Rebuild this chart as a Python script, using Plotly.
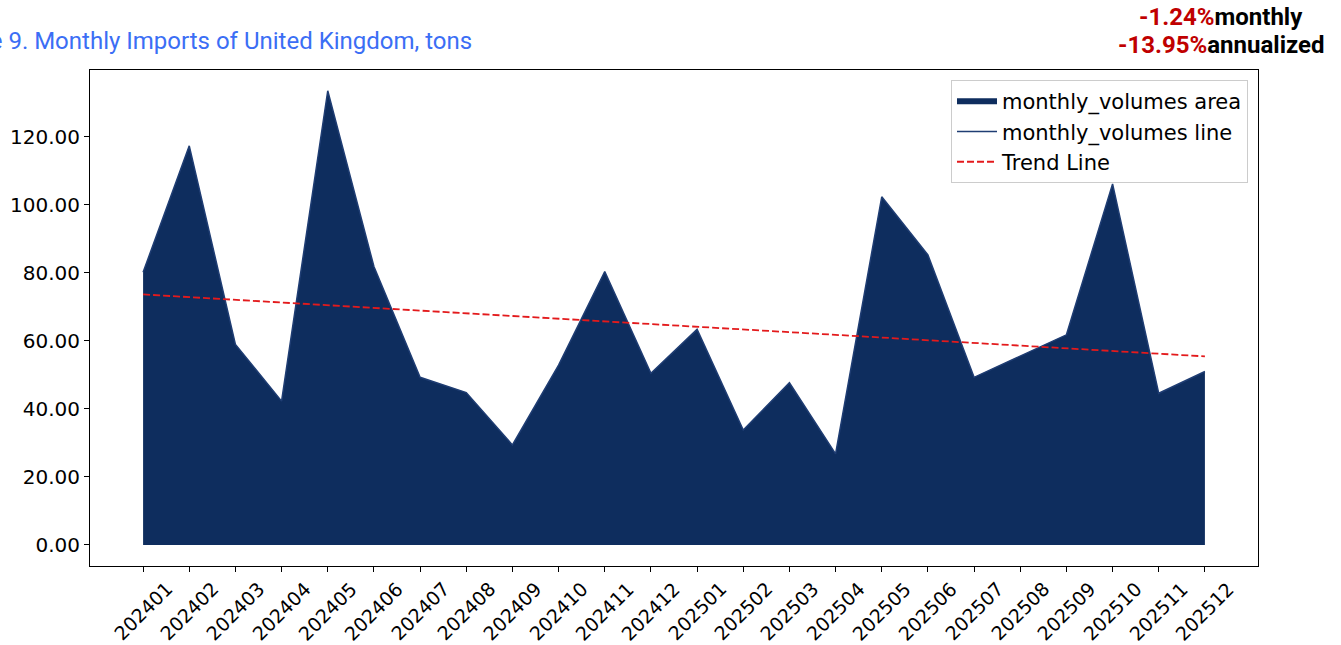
import numpy as np
import plotly.graph_objects as go

months = ["202401", "202402", "202403", "202404", "202405", "202406", "202407", "202408",
          "202409", "202410", "202411", "202412", "202501", "202502", "202503", "202504",
          "202505", "202506", "202507", "202508", "202509", "202510", "202511", "202512"]
volumes = [80.2, 117.4, 59.0, 42.3, 133.6, 81.9, 49.3, 44.8,
           29.4, 52.9, 80.4, 50.5, 63.4, 33.8, 47.7, 26.8,
           102.4, 85.3, 49.3, 55.6, 61.8, 106.2, 44.6, 51.0]
y_ticks = [0, 20, 40, 60, 80, 100, 120]
title_text = "Figure 9. Monthly Imports of United Kingdom, tons"
monthly_rate = "-1.24%"
annual_rate = "-13.95%"

idx = np.arange(len(months))
slope, intercept = np.polyfit(idx, volumes, 1)
trend = slope * idx + intercept

W, H = 1341, 645
ml, mr, mt, mb = 90, 83, 70, 79
pw = W - ml - mr
ph = H - mt - mb

NAVY = "#0e2d5e"

fig = go.Figure()
fig.add_trace(go.Scatter(x=idx, y=volumes, fill="tozeroy", mode="none",
                         fillcolor=NAVY, name="monthly_volumes area"))
fig.add_trace(go.Scatter(x=idx, y=volumes, mode="lines",
                         line=dict(color="#1f3d73", width=1.5), name="monthly_volumes line"))
fig.add_trace(go.Scatter(x=idx, y=trend, mode="lines",
                         line=dict(color="#e31a1c", width=1.8, dash="7px,3px"), name="Trend Line"))

fig.update_layout(
    width=W, height=H,
    margin=dict(l=ml, r=mr, t=mt, b=mb, autoexpand=False),
    paper_bgcolor="white", plot_bgcolor="white",
    font=dict(family="DejaVu Sans", size=20, color="black"),
    showlegend=True,
    legend=dict(x=(1248 - ml) / pw, xanchor="right", y=1 - 10 / ph, yanchor="top",
                bordercolor="#cccccc", borderwidth=1, bgcolor="rgba(255,255,255,0.9)",
                font=dict(family="DejaVu Sans", size=21), tracegroupgap=0,
                itemwidth=40),
    xaxis=dict(tickmode="array", tickvals=list(idx), ticktext=months, showticklabels=False,
               range=[-1.15, len(months) - 1 + 1.15], showgrid=False, zeroline=False,
               showline=True, linecolor="black", linewidth=1, mirror=True,
               ticks="outside", ticklen=5, tickcolor="black", automargin=False),
    yaxis=dict(tickmode="array", tickvals=y_ticks, tickformat=".2f",
               range=[-6.2, 139.7], showgrid=False, zeroline=False,
               showline=True, linecolor="black", linewidth=1, mirror=True,
               ticks="outside", ticklen=5, tickcolor="black", automargin=False,
               tickfont=dict(family="DejaVu Sans", size=20)),
)

# rotated month labels, centred under their ticks
for i, m in zip(idx, months):
    fig.add_annotation(text=m, x=i, xref="x", y=-(611 - (H - mb)) / ph, yref="paper",
                       xanchor="center", yanchor="middle", textangle=-45, showarrow=False,
                       font=dict(family="DejaVu Sans", size=19, color="black"))

fig.add_annotation(text=title_text, xref="paper", yref="paper",
                   x=(474 - ml) / pw, xanchor="right", y=1 + (mt - 41) / ph, yanchor="middle",
                   showarrow=False, font=dict(family="Roboto", size=24, color="#3b6ef5"))

fig.add_annotation(text=f"<span style='color:#c00000'>{monthly_rate}</span>monthly",
                   xref="paper", yref="paper", x=(1221 - ml) / pw, xanchor="center",
                   y=1 + (mt - 17) / ph, yanchor="middle", showarrow=False,
                   font=dict(family="Roboto", size=24, color="black", weight="bold"))
fig.add_annotation(text=f"<span style='color:#c00000'>{annual_rate}</span>annualized",
                   xref="paper", yref="paper", x=(1221 - ml) / pw, xanchor="center",
                   y=1 + (mt - 45) / ph, yanchor="middle", showarrow=False,
                   font=dict(family="Roboto", size=24, color="black", weight="bold"))

fig.write_html("out.html", config={"displayModeBar": False},
               post_script="document.body.style.margin='0';document.body.style.overflow='hidden';")
